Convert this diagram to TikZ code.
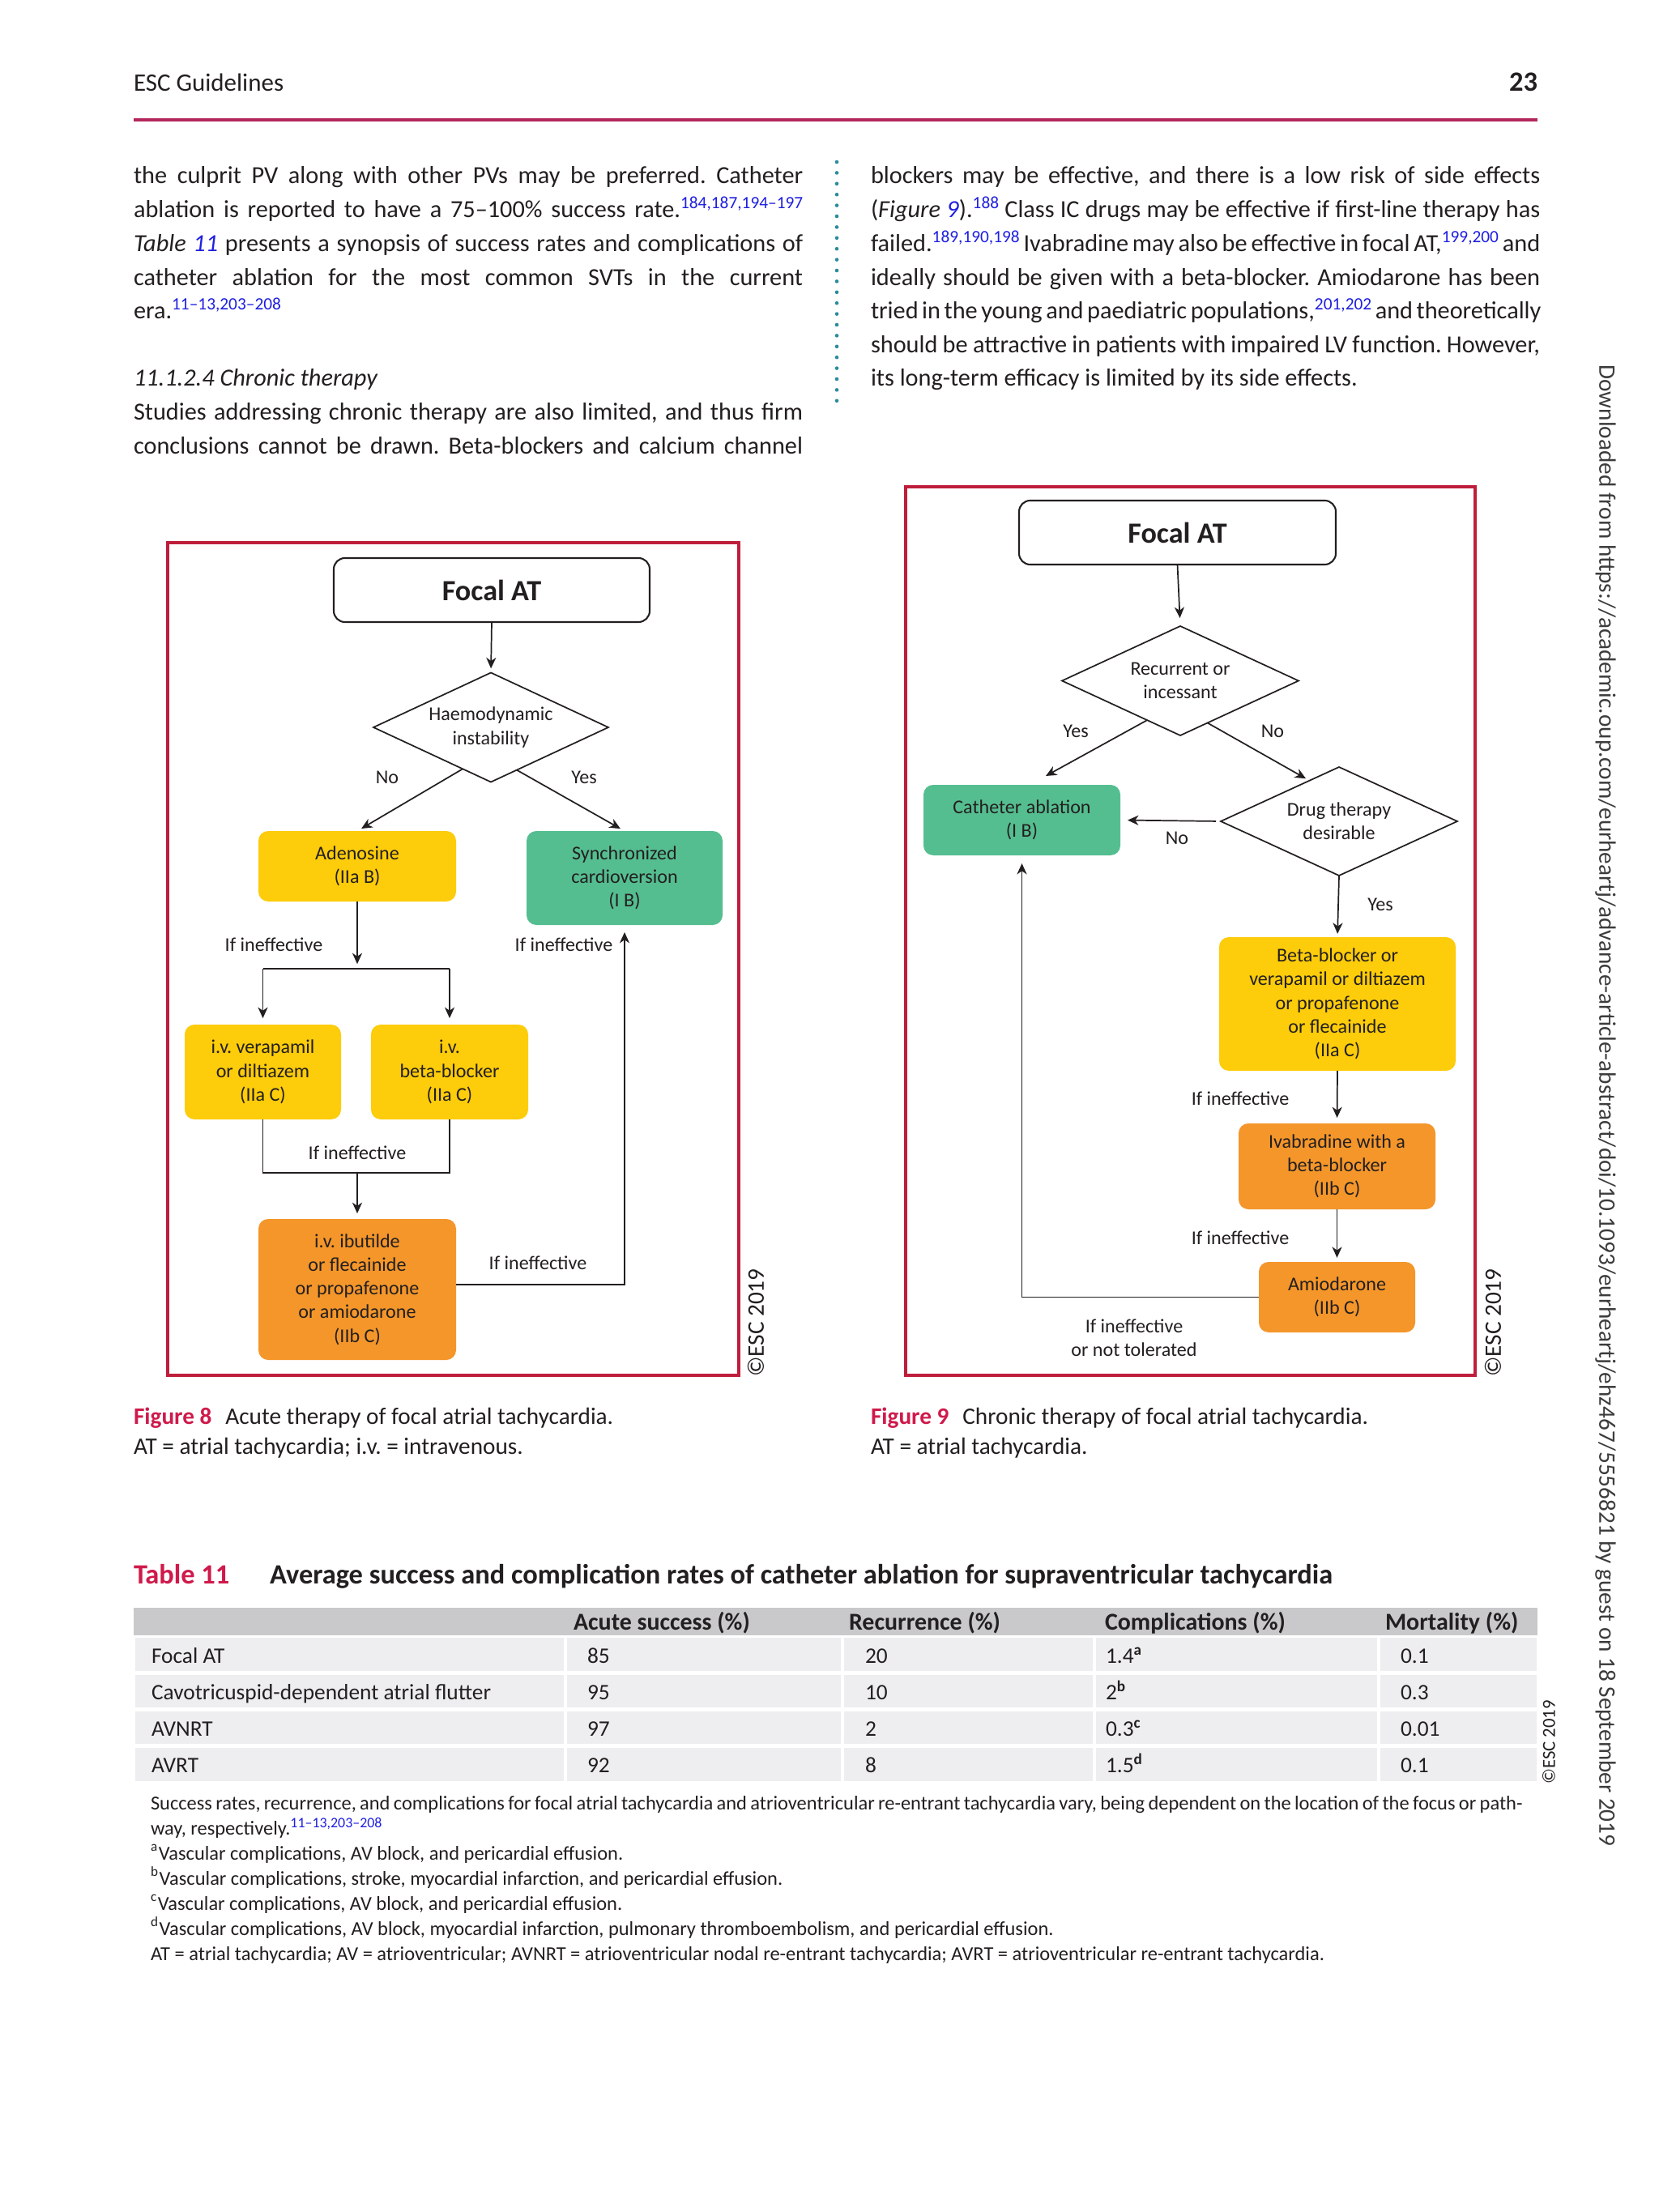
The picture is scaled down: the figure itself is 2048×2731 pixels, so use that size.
\documentclass[tikz,border=0pt]{standalone}
\usepackage{fontspec}
\setmainfont{Carlito}
\usetikzlibrary{arrows.meta,shapes.geometric,calc}
\definecolor{ink}{HTML}{231F20}
\definecolor{fyel}{HTML}{FDCC0A}
\definecolor{fgrn}{HTML}{55BE90}
\definecolor{forg}{HTML}{F4962A}
\definecolor{fred}{HTML}{BE1E3C}
\definecolor{crim}{HTML}{CF1A4B}
\definecolor{rulec}{HTML}{B3275C}
\definecolor{citeb}{HTML}{1F1FE0}
\definecolor{sepc}{HTML}{2A8C9C}
\definecolor{thgray}{HTML}{C9C9CB}
\definecolor{rowgray}{HTML}{EEEEF0}
\definecolor{mgray}{HTML}{3C3C3C}
\newcommand\px{0.2905pt}
\newcommand\fs[2]{\fontsize{#1}{#2}\selectfont}
\newcommand\rf[1]{\raisebox{3.2pt}{\fs{6.2}{7}\color{citeb}#1}}
\newcommand\fr[1]{\raisebox{2.6pt}{\fs{5.2}{6}\color{citeb}#1}}
\newcommand\jl[2]{\makebox[#1][s]{#2}}
\frenchspacing
\begin{document}
\begin{tikzpicture}[x=0.2905pt,y=-0.2905pt,
  every node/.style={inner sep=0pt,outer sep=0pt,text=ink},
  bt/.style={anchor=base west,font=\fs{8.8}{12}},
  ln/.style={draw=ink,line width=0.5pt},
  arr/.style={ln,-{Stealth[length=3.9pt,width=3.5pt,inset=1.2pt]}},
  topbox/.style={draw=ink,line width=0.6pt,rounded corners=4pt,font=\fs{10.5}{12}\bfseries,fill=white},
  cbox/.style={rectangle,rounded corners=3.5pt,align=center,font=\fs{7}{8.5}},
  dia/.style={diamond,draw=ink,line width=0.5pt,aspect=2.15,align=center,font=\fs{7}{8.5}},
  lab/.style={font=\fs{7}{8.5},align=center},
  cpy/.style={rotate=90,font=\fs{8.5}{10}},
  captxt/.style={anchor=base west,font=\fs{8.5}{10}},
  th/.style={anchor=base west,font=\fs{8.7}{10}\bfseries},
  td/.style={anchor=base west,font=\fs{7.95}{10}},
  fn/.style={anchor=base west,font=\fs{7.1}{8}}]
\fill[white] (0,0) rectangle (2048,2731);
\useasboundingbox (0,0) rectangle (2048,2731);

% ---------- header ----------
\node[anchor=base west,font=\fs{9}{11}] (hdr) at (165,113) {ESC Guidelines};
\node[anchor=base east,font=\fs{10}{11}\bfseries] (pg) at (1898,113) {23};
\coordinate (rl) at (165,148);
\coordinate (rr) at (1898,148);
\draw[rulec,line width=0.9pt] (rl) -- (rr);

% ---------- left column ----------
\node[bt] (l1) at (165,227) {\jl{240pt}{the culprit PV along with other PVs may be preferred. Catheter}};
\node[bt] (l2) at (165,269) {\jl{240pt}{ablation is reported to have a 75–100\% success rate.\rf{184,187,194–197}}};
\node[bt] (l3) at (165,311) {\jl{240pt}{\textit{Table} \textcolor{citeb}{\textit{11}} presents a synopsis of success rates and complications of}};
\node[bt] (l4) at (165,353) {\jl{240pt}{catheter ablation for the most common SVTs in the current}};
\node[bt] (l5) at (165,394) {era.\rf{11–13,203–208}};
\node[bt] (l6) at (165,477) {\textit{11.1.2.4 Chronic therapy}};
\node[bt] (l7) at (165,519) {\jl{240pt}{Studies addressing chronic therapy are also limited, and thus firm}};
\node[bt] (l8) at (165,560) {\jl{240pt}{conclusions cannot be drawn. Beta-blockers and calcium channel}};

% separator
\foreach \yy in {200,213.4,...,505} \fill[sepc] (1033,\yy) circle (2.3);

% ---------- right column ----------
\node[bt] (r1) at (1075,227) {\jl{240pt}{blockers may be effective, and there is a low risk of side effects}};
\node[bt] (r2) at (1075,269) {\jl{240pt}{(\textit{Figure} \textcolor{citeb}{\textit{9}}).\rf{188} Class IC drugs may be effective if first-line therapy has}};
\node[bt] (r3) at (1075,311) {\jl{240pt}{failed.\rf{189,190,198} Ivabradine may also be effective in focal AT,\rf{199,200} and}};
\node[bt] (r4) at (1075,353) {\jl{240pt}{ideally should be given with a beta-blocker. Amiodarone has been}};
\node[bt] (r5) at (1075,394) {\jl{240pt}{tried in the young and paediatric populations,\rf{201,202} and theoretically}};
\node[bt] (r6) at (1075,436) {\jl{240pt}{should be attractive in patients with impaired LV function. However,}};
\node[bt] (r7) at (1075,477) {its long-term efficacy is limited by its side effects.};

% ---------- Figure 8 ----------
\draw[fred,line width=0.9pt] (207,670) rectangle (912,1698);
\node[topbox,minimum width=390*\px,minimum height=79*\px] (fa8) at (607,728.5) {Focal AT};
\node[dia,minimum width=290*\px,minimum height=135*\px] (hd8) at (606,898) {Haemodynamic\\instability};
\node[cbox,fill=fyel,minimum width=244*\px,minimum height=87*\px] (ad) at (441,1069.5) {Adenosine\\(IIa B)};
\node[cbox,fill=fgrn,minimum width=242*\px,minimum height=116*\px] (sc) at (771,1084) {Synchronized\\cardioversion\\(I B)};
\node[cbox,fill=fyel,minimum width=193*\px,minimum height=117*\px] (vp) at (324.5,1323.5) {i.v. verapamil\\or diltiazem\\(IIa C)};
\node[cbox,fill=fyel,minimum width=194*\px,minimum height=117*\px] (bb) at (555,1323.5) {i.v.\\beta-blocker\\(IIa C)};
\node[cbox,fill=forg,minimum width=244*\px,minimum height=174*\px] (ib) at (441,1592) {i.v. ibutilde\\or flecainide\\or propafenone\\or amiodarone\\(IIb C)};

\draw[arr,shorten >=1.5pt] (fa8.south) -- (hd8.north);
\draw[arr,shorten >=1.7pt] ($(hd8.west)!0.76!(hd8.south)$) -- (ad.north);
\draw[arr,shorten >=1.7pt] ($(hd8.east)!0.78!(hd8.south)$) -- (sc.north);
\coordinate (b1) at (441,1196);
\coordinate (b2) at (441,1448);
\coordinate (r8) at (771,1586);
\draw[arr,shorten >=1.7pt] (ad.south) -- (b1);
\draw[ln] (vp.north |- b1) -- (bb.north |- b1);
\draw[arr,shorten >=2.3pt] (vp.north |- b1) -- (vp.north);
\draw[arr,shorten >=2.3pt] (bb.north |- b1) -- (bb.north);
\draw[ln] (vp.south) -- (vp.south |- b2) -- (bb.south |- b2) -- (bb.south);
\draw[arr,shorten >=2pt] (b2) -- (ib.north);
\draw[arr,shorten >=2.6pt] (ib.east |- r8) -- (r8) -- (sc.south);

\node[lab] (no8) at (478,960) {No};
\node[lab] (yes8) at (721,960) {Yes};
\node[lab] (ie1) at (338,1166) {If ineffective};
\node[lab] (ie2) at (696,1166) {If ineffective};
\node[lab] (ie3) at (441,1423) {If ineffective};
\node[lab] (ie4) at (664,1559) {If ineffective};
\node[cpy] (cp8) at (933,1633) {©ESC 2019};

% ---------- Figure 9 ----------
\draw[fred,line width=0.9pt] (1118,601) rectangle (1821,1698);
\node[topbox,minimum width=391*\px,minimum height=79*\px] (fa9) at (1453.5,657.5) {Focal AT};
\node[dia,minimum width=292*\px,minimum height=135*\px] (ri) at (1457,840.5) {Recurrent or\\incessant};
\node[cbox,fill=fgrn,minimum width=243*\px,minimum height=87*\px] (ca) at (1261.5,1012.5) {Catheter ablation\\(I B)};
\node[dia,minimum width=292*\px,minimum height=134*\px] (dt) at (1653,1014) {Drug therapy\\desirable};
\node[cbox,fill=fyel,minimum width=292*\px,minimum height=165*\px] (bt9) at (1651,1239.5) {Beta-blocker or\\verapamil or diltiazem\\or propafenone\\or flecainide\\(IIa C)};
\node[cbox,fill=forg,minimum width=243*\px,minimum height=106*\px] (iv) at (1650.5,1440) {Ivabradine with a\\beta-blocker\\(IIb C)};
\node[cbox,fill=forg,minimum width=193*\px,minimum height=87*\px] (am) at (1650.5,1601.5) {Amiodarone\\(IIb C)};

\coordinate (c1) at (1291,958);
\draw[arr,shorten >=2.9pt] (fa9.south) -- (ri.north);
\draw[arr] ($(ri.west)!0.72!(ri.south)$) -- (c1);
\draw[arr,shorten >=1.5pt] ($(ri.east)!0.77!(ri.south)$) -- ($(dt.north)!0.25!(dt.west)$);
\draw[arr,shorten <=1.7pt,shorten >=2.6pt] (dt.west) -- (ca.east);
\draw[arr,shorten >=1.2pt] (dt.south) -- (bt9.north);
\draw[arr,shorten >=2pt] (bt9.south) -- (iv.north);
\draw[arr,shorten >=1.5pt] (iv.south) -- (am.north);
\draw[arr,shorten >=2.9pt] (am.west) -| (ca.south);

\node[lab] (yes9) at (1328,903) {Yes};
\node[lab] (no9) at (1571,903) {No};
\node[lab] (no9b) at (1453,1035) {No};
\node[lab] (yes9b) at (1704,1117) {Yes};
\node[lab] (ie5) at (1531,1356) {If ineffective};
\node[lab] (ie6) at (1531,1528) {If ineffective};
\node[lab] (ie7) at (1400,1652) {If ineffective\\or not tolerated};
\node[cpy] (cp9) at (1843,1633) {©ESC 2019};

% ---------- captions ----------
\node[captxt] (c8a) at (165,1758) {\textbf{\color{crim}Figure 8}\hspace{3pt} Acute therapy of focal atrial tachycardia.};
\node[captxt] (c8b) at (165,1795) {AT = atrial tachycardia; i.v. = intravenous.};
\node[captxt] (c9a) at (1075,1758) {\textbf{\color{crim}Figure 9}\hspace{3pt} Chronic therapy of focal atrial tachycardia.};
\node[captxt] (c9b) at (1075,1795) {AT = atrial tachycardia.};

% ---------- table ----------
\node[anchor=base west,font=\fs{10}{11}\bfseries,text=crim] (t11) at (165,1955) {Table 11};
\node[anchor=base west,font=\fs{10}{11}\bfseries] (ttl) at (333,1955) {Average success and complication rates of catheter ablation for supraventricular tachycardia};
\fill[thgray] (165,1985) rectangle (1898,2019);
\foreach \ya/\yb in {2022/2063,2068/2108,2113/2153,2158/2199}{
  \foreach \xa/\xb in {167/696,700/1038,1042/1349,1353/1700,1704/1897}{
    \fill[rowgray] (\xa,\ya) rectangle (\xb,\yb);
  }
}
\node[th] (h1) at (708,2012) {Acute success (\%)};
\node[th] (h2) at (1048,2012) {Recurrence (\%)};
\node[th] (h3) at (1364,2012) {Complications (\%)};
\node[th] (h4) at (1710,2012) {Mortality (\%)};

\node[td] (a0) at (187,2053) {Focal AT};
\node[td] (a1) at (725,2053) {85};
\node[td] (a2) at (1068,2053) {20};
\node[td] (a3) at (1365,2053) {1.4\textsuperscript{\textbf{a}}};
\node[td] (a4) at (1729,2053) {0.1};
\node[td] (b0) at (187,2098) {Cavotricuspid-dependent atrial flutter};
\node[td] (bb1) at (725,2098) {95};
\node[td] (bb2) at (1068,2098) {10};
\node[td] (bb3) at (1365,2098) {2\textsuperscript{\textbf{b}}};
\node[td] (bb4) at (1729,2098) {0.3};
\node[td] (c0) at (187,2143) {AVNRT};
\node[td] (cc1) at (725,2143) {97};
\node[td] (cc2) at (1068,2143) {2};
\node[td] (cc3) at (1365,2143) {0.3\textsuperscript{\textbf{c}}};
\node[td] (cc4) at (1729,2143) {0.01};
\node[td] (d0) at (187,2188) {AVRT};
\node[td] (dd1) at (725,2188) {92};
\node[td] (dd2) at (1068,2188) {8};
\node[td] (dd3) at (1365,2188) {1.5\textsuperscript{\textbf{d}}};
\node[td] (dd4) at (1729,2188) {0.1};
\node[rotate=90,font=\fs{6.6}{8}] (cpt) at (1912,2151) {©ESC 2019};

\node[fn] (f1) at (186,2234) {\jl{492pt}{Success rates, recurrence, and complications for focal atrial tachycardia and atrioventricular re-entrant tachycardia vary, being dependent on the location of the focus or path-}};
\node[fn] (f2) at (186,2265) {way, respectively.\fr{11–13,203–208}};
\node[fn] (f3) at (186,2296) {\textsuperscript{a}Vascular complications, AV block, and pericardial effusion.};
\node[fn] (f4) at (186,2327) {\textsuperscript{b}Vascular complications, stroke, myocardial infarction, and pericardial effusion.};
\node[fn] (f5) at (186,2358) {\textsuperscript{c}Vascular complications, AV block, and pericardial effusion.};
\node[fn] (f6) at (186,2389) {\textsuperscript{d}Vascular complications, AV block, myocardial infarction, pulmonary thromboembolism, and pericardial effusion.};
\node[fn] (f7) at (186,2420) {AT = atrial tachycardia; AV = atrioventricular; AVNRT = atrioventricular nodal re-entrant tachycardia; AVRT = atrioventricular re-entrant tachycardia.};

% ---------- margin ----------
\node[rotate=-90,font=\fs{8.5}{10},text=mgray] (dl) at (1982,1365) {Downloaded from https://academic.oup.com/eurheartj/advance-article-abstract/doi/10.1093/eurheartj/ehz467/5556821 by guest on 18 September 2019};
\end{tikzpicture}
\end{document}
